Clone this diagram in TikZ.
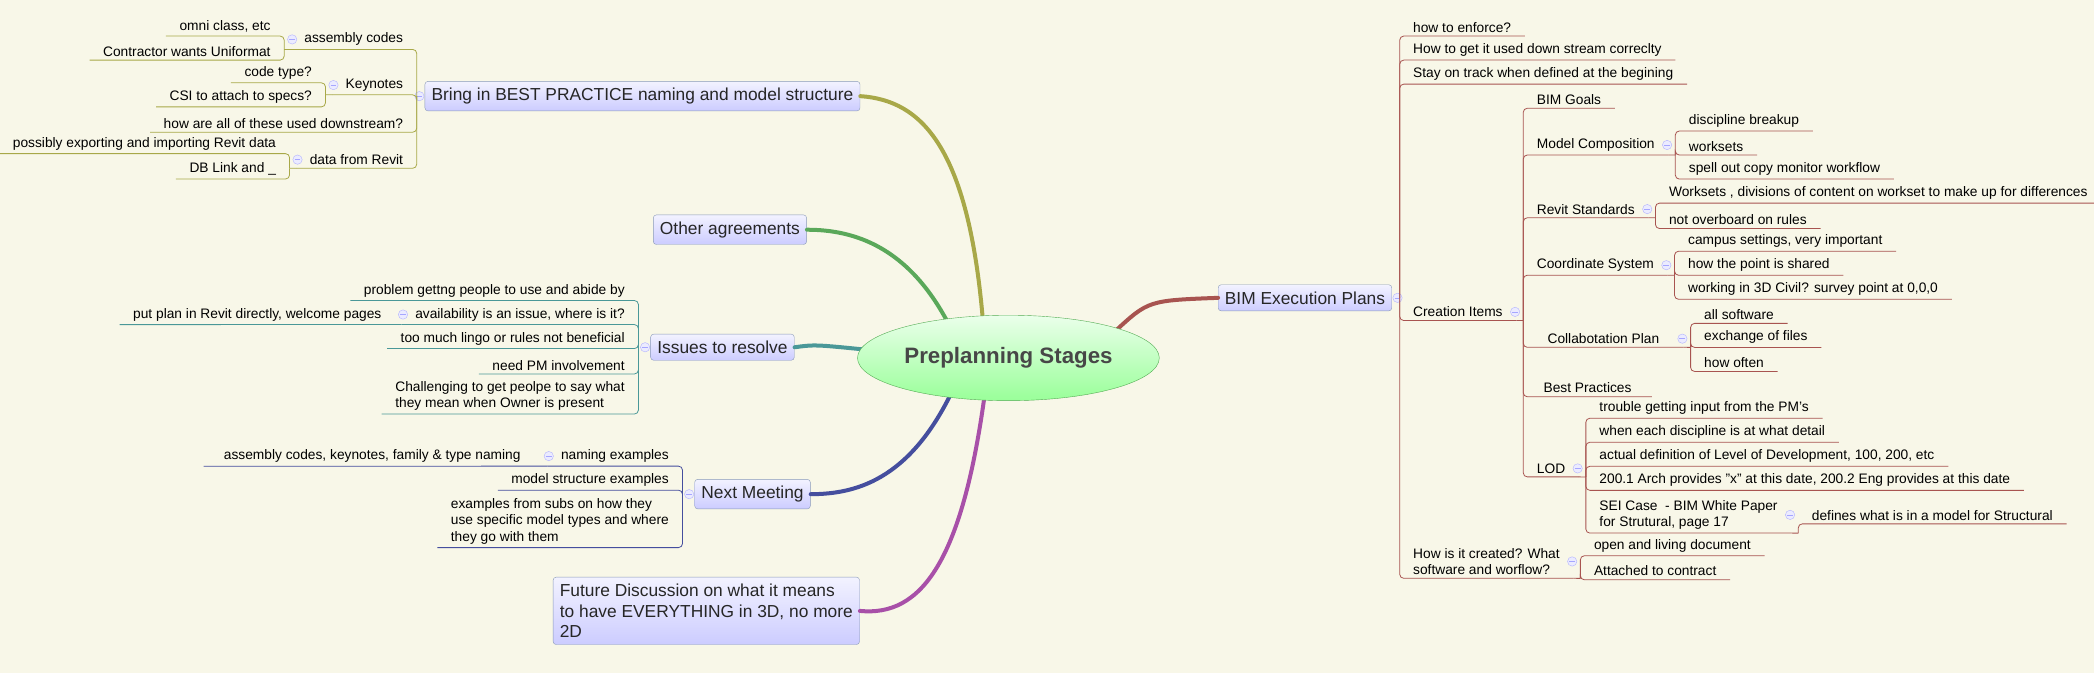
\documentclass[tikz,border=0pt]{standalone}
\usepackage{fontspec}
\setmainfont{Liberation Sans}
\usetikzlibrary{shapes.geometric,calc}
\definecolor{bg}{HTML}{F8F7E8}
\definecolor{cR}{HTML}{A85450}
\definecolor{cO}{HTML}{A8A848}
\definecolor{cG}{HTML}{5AA85A}
\definecolor{cT}{HTML}{4A9898}
\definecolor{cB}{HTML}{454E9E}
\definecolor{cP}{HTML}{A850A8}
\definecolor{boxd}{HTML}{8A9AB8}
\tikzset{
 leafR/.style={anchor=south west,inner xsep=10pt,inner ysep=2.5pt,font=\fontsize{10.3}{12.3}\selectfont,align=left},
 leafL/.style={anchor=south east,inner xsep=10pt,inner ysep=2.5pt,font=\fontsize{10.3}{12.3}\selectfont,align=left},
 topic/.style={draw=boxd,rounded corners=3pt,top color=blue!5,bottom color=blue!20,inner xsep=5pt,inner ysep=5pt,font=\fontsize{13}{15.5}\selectfont,text=black!85,align=left},
 minus/.style={circle,draw=blue!30,fill=blue!8,minimum size=7pt,inner sep=0pt,path picture={\draw[blue!35,line width=.5pt] ([xshift=-2.2pt]path picture bounding box.center)--([xshift=2.2pt]path picture bounding box.center);}},
 con/.style={rounded corners=4pt,line width=.8pt},
 lk/.style={line width=.8pt},
 main/.style={line width=4pt,line cap=round}
}
\begin{document}
\begin{tikzpicture}[x=1pt,y=-1pt,scale=1.3355,every node/.style={transform shape}]
\fill[bg] (0,0) rectangle (1568,504);
\useasboundingbox (0,0) rectangle (1568,504);
% main curves
\coordinate (cc) at (755,268);
\node[topic,anchor=west] (bim) at (912,223) {BIM Execution Plans};
\node[topic,anchor=west] (bring) at (318,72) {Bring in BEST PRACTICE naming and model structure};
\node[topic,anchor=west] (other) at (489,172) {Other agreements};
\node[topic,anchor=west] (iss) at (487,260) {Issues to resolve};
\node[topic,anchor=west] (next) at (520,370) {Next Meeting};
\node[topic,anchor=north west] (fut) at (414,432) {Future Discussion on what it means\\to have EVERYTHING in 3D, no more\\2D};
\draw[main,cR] (835,248) .. controls (860,225) .. (bim.west);
\draw[main,cO] (736,240) .. controls (725,110) and (690,75) .. (bring.east);
\draw[main,cG] (710,242) .. controls (680,185) and (640,172) .. (other.east);
\draw[main,cT] (650,262) .. controls (610,258) .. (iss.east);
\draw[main,cB] (712,295) .. controls (680,360) and (640,370) .. (next.east);
\draw[main,cP] (737,298) .. controls (720,420) and (690,462) .. (fut.east);
% centre
\node[ellipse,draw=green!35!gray,top color=green!8,bottom color=green!40,minimum width=226pt,minimum height=64pt,inner sep=0pt] (c) at (cc) {};
\node[font=\fontsize{16.7}{20}\selectfont\bfseries,text=black!72] (ct) at (c) {Preplanning Stages};

% ---------- right side
\coordinate (bimP) at (1048,223);
\node[minus] at ([xshift=4pt]bim.east) {};
\node[leafR] (enf) at (1048,27) {how to enforce?};
\node[leafR] (dstr) at (1048,45) {How to get it used down stream correclty};
\node[leafR] (stay) at (1048,63) {Stay on track when defined at the begining};
\node[leafR] (crea) at (1048,240) {Creation Items};
\node[leafR] (howc) at (1048,433) {How is it created? What\\software and worflow?};
\foreach \n in {enf,dstr,stay,crea,howc} \draw[con,cR] (bimP) |- (\n.south east);
\coordinate (crP) at ([xshift=5pt]crea.south east);
\coordinate (howP) at ([xshift=5pt]howc.south east);
\draw[lk,cR] (crea.south east) -- (crP) (howc.south east) -- (howP);
\node[leafR] (goals) at ($(crP)+(0,-159)$) {BIM Goals};
\node[leafR] (mc) at ($(crP)+(0,-124)$) {Model Composition};
\node[leafR] (rs) at ($(crP)+(0,-77)$) {Revit Standards};
\node[leafR] (cs) at ($(crP)+(0,-34)$) {Coordinate System};
\node[leafR,inner xsep=18pt] (cp) at ($(crP)+(0,20)$) {Collabotation Plan};
\node[leafR,inner xsep=15pt] (bp) at ($(crP)+(0,57)$) {Best Practices};
\node[leafR] (lod) at ($(crP)+(0,117)$) {LOD};
\foreach \n in {goals,mc,rs,cs,cp,bp,lod} \draw[con,cR] (crP) |- (\n.south east);
\foreach \n in {mc,rs,cs,cp,lod} {
  \coordinate (\n P) at ([xshift=5pt]\n.south east);
  \draw[lk,cR] (\n.south east) -- (\n P);
}
\node[leafR] (db) at ($(mcP)+(0,-18)$) {discipline breakup};
\node[leafR] (ws) at (mcP) {worksets};
\node[leafR] (so) at ($(mcP)+(0,18)$) {spell out copy monitor workflow};
\foreach \n in {db,ws,so} \draw[con,cR] (mcP) |- (\n.south east);
\node[leafR] (wk) at ($(rsP)+(0,-11)$) {Worksets , divisions of content on workset to make up for differences};
\node[leafR] (nob) at ($(rsP)+(0,8)$) {not overboard on rules};
\foreach \n in {wk,nob} \draw[con,cR] (rsP) |- (\n.south east);
\node[leafR] (camp) at ($(csP)+(0,-18)$) {campus settings, very important};
\node[leafR] (pt) at (csP) {how the point is shared};
\node[leafR] (civ) at ($(csP)+(0,18)$) {working in 3D Civil? survey point at 0,0,0};
\foreach \n in {camp,pt,civ} \draw[con,cR] (csP) |- (\n.south east);
\node[leafR] (alls) at ($(cpP)+(0,-18)$) {all software};
\node[leafR] (exf) at (cpP) {exchange of files};
\node[leafR] (often) at ($(cpP)+(0,18)$) {how often};
\foreach \n in {alls,exf,often} \draw[con,cR] (cpP) |- (\n.south east);
\node[leafR] (tr) at ($(lodP)+(0,-44)$) {trouble getting input from the PM's};
\node[leafR] (each) at ($(lodP)+(0,-26)$) {when each discipline is at what detail};
\node[leafR] (act) at ($(lodP)+(0,-8)$) {actual definition of Level of Development, 100, 200, etc};
\node[leafR] (arch) at ($(lodP)+(0,10)$) {200.1 Arch provides "x" at this date, 200.2 Eng provides at this date};
\node[leafR] (sei) at ($(lodP)+(0,42)$) {SEI Case\ \ - BIM White Paper\\for Strutural, page 17};
\foreach \n in {tr,each,act,arch,sei} \draw[con,cR] (lodP) |- (\n.south east);
\coordinate (seiP) at ([xshift=5pt]sei.south east);
\draw[lk,cR] (sei.south east) -- (seiP);
\node[leafR] (def) at ($(seiP)+(0,-7)$) {defines what is in a model for Structural};
\draw[con,cR] (seiP) |- (def.south east);
\node[leafR] (open) at ($(howP)+(0,-17)$) {open and living document};
\node[leafR] (att) at ($(howP)+(0,1)$) {Attached to contract};
\foreach \n in {open,att} \draw[con,cR] (howP) |- (\n.south east);
\foreach \n in {crea,howc,mc,rs,cs,cp,lod,sei} \node[minus] at ([xshift=-1pt]\n.east) {};

% ---------- left: bring
\coordinate (brP) at (312,72);
\node[minus] at ([xshift=-4pt]bring.west) {};
\node[leafL] (asm) at (312,37) {assembly codes};
\node[leafL] (key) at (312,71) {Keynotes};
\node[leafL] (down) at (312,99) {how are all of these used downstream?};
\node[leafL] (dat) at (312,126) {data from Revit};
\foreach \n in {asm,key,down,dat} \draw[con,cO] (brP) |- (\n.south west);
\foreach \n in {asm,key,dat} {
  \coordinate (\n P) at ([xshift=-5pt]\n.south west);
  \draw[lk,cO] (\n.south west) -- (\n P);
  \node[minus] at ([xshift=1pt]\n.west) {};
}
\node[leafL] (omni) at ($(asmP)+(0,-10)$) {omni class, etc};
\node[leafL] (contr) at ($(asmP)+(0,8)$) {Contractor wants Uniformat};
\node[leafL] (code) at ($(keyP)+(0,-9)$) {code type?};
\node[leafL] (csi) at ($(keyP)+(0,9)$) {CSI to attach to specs?};
\node[leafL] (poss) at ($(datP)+(0,-11)$) {possibly exporting and importing Revit data};
\node[leafL] (dbl) at ($(datP)+(0,8)$) {DB Link and \_};
\foreach \n in {omni,contr} \draw[con,cO] (asmP) |- (\n.south west);
\foreach \n in {code,csi} \draw[con,cO] (keyP) |- (\n.south west);
\foreach \n in {poss,dbl} \draw[con,cO] (datP) |- (\n.south west);

% ---------- issues
\coordinate (isP) at (478,260);
\node[minus] at ([xshift=-4pt]iss.west) {};
\node[leafL] (prob) at (478,225) {problem gettng people to use and abide by};
\node[leafL] (avail) at (478,243) {availability is an issue, where is it?};
\node[leafL] (ling) at (478,261) {too much lingo or rules not beneficial};
\node[leafL] (pm) at (478,280) {need PM involvement};
\node[leafL] (chal) at (478,310) {Challenging to get peolpe to say what\\they mean when Owner is present};
\foreach \n in {prob,avail,ling,pm,chal} \draw[con,cT] (isP) |- (\n.south west);
\coordinate (avP) at ([xshift=-5pt]avail.south west);
\node[leafL] (put) at (avP) {put plan in Revit directly, welcome pages};
\draw[lk,cT] (avail.south west) -- (put.south west);
\node[minus] at ([xshift=1pt]avail.west) {};

% ---------- next
\coordinate (nxP) at (511,370);
\node[minus] at ([xshift=-4pt]next.west) {};
\node[leafL] (name) at (511,349) {naming examples};
\node[leafL] (mse) at (511,367) {model structure examples};
\node[leafL] (subs) at (511,410) {examples from subs on how they\\use specific model types and where\\they go with them};
\foreach \n in {name,mse,subs} \draw[con,cB] (nxP) |- (\n.south west);
\coordinate (nmP) at ([xshift=-5pt]name.south west);
\node[leafL,inner xsep=15pt] (asmk) at (nmP) {assembly codes, keynotes, family \& type naming};
\draw[lk,cB] (name.south west) -- (asmk.south west);
\node[minus] at ([xshift=1pt]name.west) {};
\end{tikzpicture}
\end{document}
